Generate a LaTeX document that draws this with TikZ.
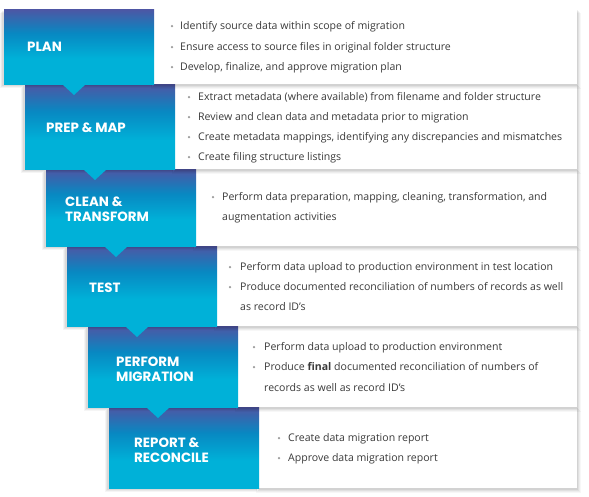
\documentclass[tikz,border=0pt]{standalone}
\usepackage{fontspec}
\setmainfont{Open Sans}
\newfontfamily\labfont{Poppins}
\usetikzlibrary{calc}
\definecolor{topc}{HTML}{4E56A4}
\definecolor{midc}{HTML}{0888C2}
\definecolor{botc}{HTML}{00B1D8}
\definecolor{txt}{HTML}{3A3A3A}
\definecolor{bul}{HTML}{9A9A9A}
\pgfdeclareverticalshading{stepshade}{100bp}{color(0bp)=(botc); color(42bp)=(botc); color(59bp)=(midc); color(75bp)=(topc); color(100bp)=(topc)}
\newcommand\drawrowx[3]{% left, top, bottom
  \pgfmathsetmacro\rr{#1+150}%
  \foreach \k/\o in {4/0.03,3/0.04,2/0.05,1/0.06}{%
    \fill[black,opacity=\o] (\rr-\k+1,#2+\k) rectangle (577+\k,#3+\k+1);}%
  \fill[white] (\rr,#2) rectangle (577,#3);%
  \foreach \k/\o in {3/0.04,2/0.05,1/0.06}{%
    \fill[black,opacity=\o] (#1-\k-1,#2+\k+1) rectangle (\rr-2,#3+\k+1);}%
  \shade[shading=stepshade] (#1,#2) rectangle (\rr,#3);%
}
\newcommand\pointer[2]{% left, bottom
  \fill[botc] (#1+58,#2) -- (#1+70,#2+11) -- (#1+82,#2) -- cycle;}
\tikzset{
  lab/.style={font=\labfont\bfseries\fontsize{13.4}{15}\selectfont, text=white, align=left, inner sep=0pt, anchor=west},
  item/.style={font=\fontsize{10.55}{12}\selectfont, text=txt, inner sep=0pt, anchor=base west},
}
\newcommand\bitem[5]{% name, bullet x, text x, center y, text
  \fill[bul] (#2,#4) circle (1.25pt);
  \node[item] (#1) at (#3,#4+3.8) {#5};}
\newcommand\citem[4]{% name, text x, center y, text (continuation)
  \node[item] (#1) at (#2,#3+3.8) {#4};}
\begin{document}
\begin{tikzpicture}[x=1pt,y=-1pt]
\useasboundingbox (0,0) rectangle (589,496);
\fill[white] (0,0) rectangle (589,496);
% row 6
\drawrowx{109}{407}{488}
\node[lab] (l6) at (134,450) {REPORT \&\\RECONCILE};
\bitem{t61}{279}{288}{438}{Create data migration report}
\bitem{t62}{279}{288}{458}{Approve data migration report}
% row 5
\drawrowx{88}{326}{407}\pointer{88}{407}
\node[lab] (l5) at (116,369.5) {PERFORM\\MIGRATION};
\bitem{t51}{254}{264}{347}{Perform data upload to production environment}
\bitem{t52}{254}{264}{367}{Produce \textbf{final} documented reconciliation of numbers of}
\citem{t53}{264}{388}{records as well as record ID’s}
% row 4
\drawrowx{67}{246}{326}\pointer{67}{326}
\node[lab] (l4) at (89,288) {TEST};
\bitem{t41}{230}{240}{267}{Perform data upload to production environment in test location}
\bitem{t42}{230}{240}{287}{Produce documented reconciliation of numbers of records as well}
\citem{t43}{240}{307}{as record ID’s}
% row 3
\drawrowx{46}{169}{246}\pointer{46}{246}
\node[lab] (l3) at (65,209.5) {CLEAN \&\\TRANSFORM};
\bitem{t31}{213}{222}{197}{Perform data preparation, mapping, cleaning, transformation, and}
\citem{t32}{222}{217}{augmentation activities}
% row 2
\drawrowx{25}{84}{169}\pointer{25}{169}
\node[lab] (l2) at (46,128) {PREP \& MAP};
\bitem{t21}{189}{198}{97}{Extract metadata (where available) from filename and folder structure}
\bitem{t22}{189}{198}{117}{Review and clean data and metadata prior to migration}
\bitem{t23}{189}{198}{137}{Create metadata mappings, identifying any discrepancies and mismatches}
\bitem{t24}{189}{198}{157}{Create filing structure listings}
% row 1
\drawrowx{4}{9}{84}\pointer{4}{84}
\node[lab] (l1) at (27,47) {PLAN};
\bitem{t11}{172}{180}{26}{Identify source data within scope of migration}
\bitem{t12}{172}{180}{47}{Ensure access to source files in original folder structure}
\bitem{t13}{172}{180}{67}{Develop, finalize, and approve migration plan}
\end{tikzpicture}
\end{document}
